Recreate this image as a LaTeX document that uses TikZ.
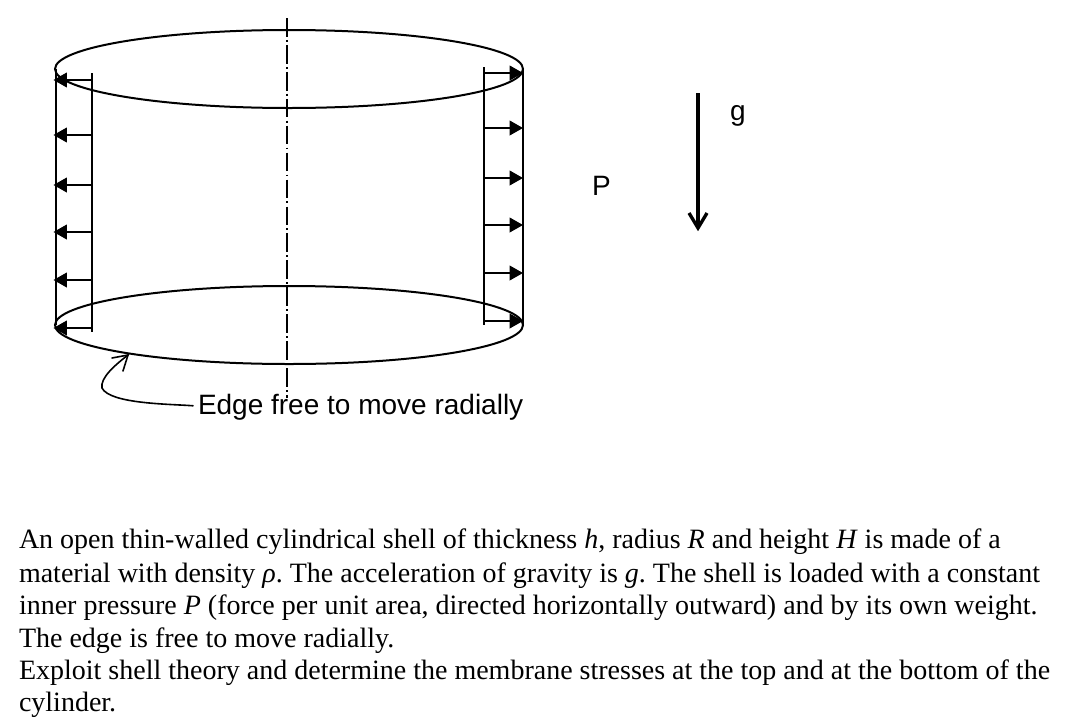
\documentclass[tikz,border=0pt]{standalone}
\usepackage{fontspec}
\setmainfont{Liberation Serif}
\newfontfamily\labelfont{Liberation Sans}
\usetikzlibrary{arrows.meta}
\frenchspacing
\tikzset{
  shellline/.style={line width=1.5pt,black},
  thinline/.style={line width=1.2pt,black},
  loadarrow/.style={line width=1.2pt,black,-{Triangle[length=10pt,width=11pt]},shorten >=0pt},
  axisline/.style={line width=0.9pt,black,dash pattern=on 14pt off 2.4pt on 1.4pt off 2.4pt},
  bodytext/.style={anchor=base west,inner sep=0pt,outer sep=0pt,font=\fontsize{21pt}{25pt}\selectfont},
  labeltext/.style={anchor=base west,inner sep=0pt,outer sep=0pt,font=\labelfont\fontsize{21pt}{25pt}\selectfont},
}
\begin{document}
\begin{tikzpicture}[x=0.75pt,y=-0.75pt]
\useasboundingbox (0,0) rectangle (1081,718);
% axis
\coordinate (axT) at (287,18);
\coordinate (axB) at (287,398);
\draw[axisline] (axT) -- (axB);
% ellipses
\draw[shellline] (289,69) ellipse [x radius=234,y radius=39];
\draw[shellline] (289,325) ellipse [x radius=234,y radius=39];
% walls
\draw[shellline] (55.5,69) -- (55.5,325);
\draw[shellline] (523,69) -- (523,325);
\draw[thinline] (92,73) -- (92,332);
\draw[thinline] (484,67) -- (484,325);
% load arrows
\foreach \yy in {80,135,185,232,280,328} \draw[loadarrow] (92,\yy) -- (53.5,\yy);
\foreach \yy in {73,128,178,225,273,321} \draw[loadarrow] (484,\yy) -- (523,\yy);
% labels
\node[labeltext] (edge) at (198,414) {Edge free to move radially};
\node[labeltext] (P) at (592,195) {P};
\node[labeltext] (g) at (730,120) {g};
% edge pointer
\coordinate (tip) at (128,355);
\draw[thinline,line cap=round] (edge.west)++(-5,-1) .. controls (170,404) and (110,404) .. (102,388) .. controls (100,378) and (115,365) .. (tip);
\draw[thinline,line cap=round] (112,358) -- (tip) -- (123,371);
% gravity arrow
\coordinate (g1) at (698,93);
\coordinate (g2) at (698,228);
\draw[line width=2.5pt] (g1) -- (g2);
\draw[line width=2.5pt,line join=miter] (689,213) -- (g2) -- (707,213);
% text
\node[bodytext] (t1) at (19,548) {An open thin-walled cylindrical shell of thickness \textit{h}, radius \textit{R} and height \textit{H} is made of a};
\node[bodytext] (t2) at (19,582) {material with density \textit{ρ}. The acceleration of gravity is \textit{g}. The shell is loaded with a constant};
\node[bodytext] (t3) at (19,614) {inner pressure \textit{P} (force per unit area, directed horizontally outward) and by its own weight.};
\node[bodytext] (t4) at (19,647) {The edge is free to move radially.};
\node[bodytext] (t5) at (19,679) {Exploit shell theory and determine the membrane stresses at the top and at the bottom of the};
\node[bodytext] (t6) at (19,711) {cylinder.};
\end{tikzpicture}
\end{document}
